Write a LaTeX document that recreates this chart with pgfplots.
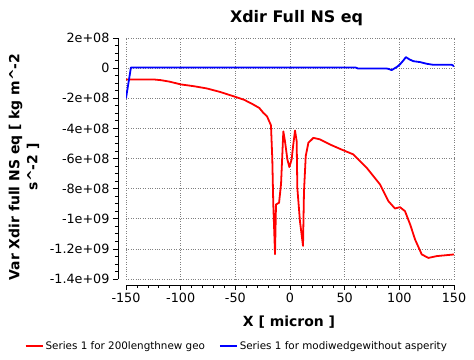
\documentclass[border=0pt]{standalone}
\usepackage{fontspec}
\setmainfont{DejaVu Sans}
\usepackage{pgfplots}
\pgfplotsset{compat=1.18}
\begin{document}
\begin{tikzpicture}
\useasboundingbox (0,0) rectangle (474bp,360bp);
\begin{axis}[
  at={(126bp,81bp)}, anchor=south west,
  width=328bp, height=241bp, scale only axis,
  xmin=-150, xmax=150, ymin=-1.4e9, ymax=2e8,
  axis x line*=bottom, axis y line*=left,
  axis x line shift=6bp, axis y line shift=8bp,
  axis line style={black, line width=0.8pt, -},
  xtick={-150,-100,-50,0,50,100,150},
  xticklabels={-150,-100,-50,0,50,100,150},
  ytick={-1.4e9,-1.2e9,-1e9,-8e8,-6e8,-4e8,-2e8,0,2e8},
  yticklabels={-1.4e+09,-1.2e+09,-1e+09,-8e+08,-6e+08,-4e+08,-2e+08,0,2e+08},
  scaled y ticks=false, scaled x ticks=false,
  minor x tick num=4, minor y tick num=3,
  tick align=outside,
  major tick length=5bp, minor tick length=3bp,
  tick style={black, line width=0.7pt},
  tick label style={font=\fontsize{12.8}{15}\selectfont},
  xmajorgrids, ymajorgrids,
  grid style={dotted, gray, line width=0.7pt},
  title={Xdir Full NS eq},
  title style={font=\bfseries\fontsize{16}{19}\selectfont, at={(axis description cs:0.52,1)}, anchor=south, yshift=3bp},
  xlabel={X [ micron ]},
  xlabel style={font=\bfseries\fontsize{14}{17}\selectfont, at={(axis description cs:0.497,-0.178)}, anchor=center},
  ylabel={Var Xdir full NS eq [ kg m\textasciicircum-2\\ s\textasciicircum-2 ]},
  ylabel style={font=\bfseries\fontsize{14}{18}\selectfont, align=center, at={(axis description cs:-0.311,0.465)}, anchor=center},
  legend columns=2,
  legend style={draw=none, fill=none, font=\fontsize{10.4}{12.5}\selectfont,
    at={(axis description cs:0.338,-0.278)}, anchor=center,
    /tikz/every even column/.append style={column sep=12bp}},
  legend image code/.code={\draw[#1] (0bp,0bp) -- (17bp,0bp);},
]
\addplot[red, line width=1.8pt, line join=round] coordinates {
(-150,-7.5e7) (-140,-7.5e7) (-125,-7.5e7) (-118,-8e7) (-110,-9e7) (-100,-1.08e8)
(-88,-1.2e8) (-76,-1.35e8) (-64,-1.58e8) (-52,-1.86e8) (-42,-2.1e8) (-34,-2.4e8)
(-28,-2.65e8) (-24.4,-2.97e8) (-21,-3.2e8) (-19.8,-3.4e8) (-17.4,-3.8e8) (-16.2,-6e8)
(-15.3,-9e8) (-13.7,-1.235e9) (-12.8,-9.05e8) (-10,-8.94e8) (-8.2,-7.7e8) (-6.1,-4.2e8)
(-4.6,-4.85e8) (-2.4,-6.06e8) (-0.6,-6.57e8) (1.5,-6.06e8) (3,-5.07e8) (4.6,-4.14e8)
(6.1,-4.85e8) (6.7,-7.95e8) (9.1,-1.016e9) (11.9,-1.18e9) (12.8,-8.17e8) (14.4,-5.84e8)
(16.8,-4.96e8) (21.4,-4.63e8) (27.4,-4.73e8) (36.6,-5.07e8) (47,-5.4e8) (58,-5.73e8)
(70.2,-6.62e8) (82.3,-7.72e8) (90,-8.83e8) (96,-9.32e8) (100.6,-9.23e8) (105.2,-9.5e8)
(110,-1.04e9) (114.4,-1.138e9) (117,-1.18e9) (120.5,-1.237e9) (126.6,-1.26e9)
(134.2,-1.248e9) (150,-1.237e9)
};
\addlegendentry{Series 1 for 200lengthnew geo}
\addplot[blue, line width=1.8pt, line join=round] coordinates {
(-150,-2e8) (-145.5,4e6) (-100,4e6) (0,4e6) (60,4e6) (62,-2e6) (88,-2e6) (90,-5e6)
(93,-1.3e7) (97.6,7e6) (100.6,2.5e7) (103.7,5.1e7) (106,7.3e7) (109.2,5.8e7)
(112.9,4.6e7) (119,4e7) (125,2.9e7) (131,2.2e7) (148,2.2e7) (150,1.3e7)
};
\addlegendentry{Series 1 for modiwedgewithout asperity}
\end{axis}
\end{tikzpicture}
\end{document}
